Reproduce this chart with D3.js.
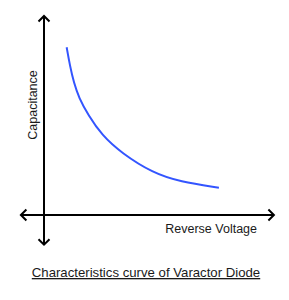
<!DOCTYPE html>
<html>
<head>
<meta charset="utf-8">
<script src="https://cdn.jsdelivr.net/npm/d3@7"></script>
<style>
  body { margin: 0; background: #fff; }
  text { font-family: "Liberation Sans", Arial, sans-serif; fill: #1a1a1a; }
</style>
</head>
<body>
<script>
// reverse voltage (arbitrary units) and capacitance
var voltage     = [1.03, 1.18, 1.36, 1.59, 2.01, 2.62, 3.53, 4.95, 6.18, 7.95];
var capacitance = [8.47, 7.53, 6.67, 5.91, 5.05, 4.04, 3.12, 2.12, 1.68, 1.38];

var xLabel = "Reverse Voltage",
    yLabel = "Capacitance",
    title = "Characteristics curve of Varactor Diode";

var width = 289,
    height = 300;

var x = d3.scaleLinear().domain([0, 10]).range([44, 264]);
var y = d3.scaleLinear().domain([0, 10]).range([215, 17]);

var svg = d3.select("body").append("svg")
    .attr("width", width)
    .attr("height", height);

var data = voltage.map(function (v, i) {
    return { v: v, c: capacitance[i] };
});

// open arrow head, dir = angle in degrees it points to
function arrow(px, py, dir) {
    var a = dir * Math.PI / 180, s = 5.5;
    var p1 = [px - s * Math.cos(a) + s * Math.sin(a), py - s * Math.sin(a) - s * Math.cos(a)];
    var p2 = [px - s * Math.cos(a) - s * Math.sin(a), py - s * Math.sin(a) + s * Math.cos(a)];
    svg.append("path")
        .attr("d", "M" + p1 + "L" + px + "," + py + "L" + p2)
        .attr("fill", "none")
        .attr("stroke", "#000")
        .attr("stroke-width", 2);
}

svg.append("line")
    .attr("x1", x(-1.05)).attr("x2", x(10.45))
    .attr("y1", y(0)).attr("y2", y(0))
    .attr("stroke", "#000").attr("stroke-width", 2);
arrow(x(-1.05), y(0), 180);
arrow(x(10.45), y(0), 0);

svg.append("line")
    .attr("x1", x(0)).attr("x2", x(0))
    .attr("y1", y(10.05)).attr("y2", y(-1.5))
    .attr("stroke", "#000").attr("stroke-width", 2);
arrow(x(0), y(10.05), -90);
arrow(x(0), y(-1.5), 90);

var line = d3.line()
    .x(function (d) { return x(d.v); })
    .y(function (d) { return y(d.c); })
    .curve(d3.curveBasis);

svg.append("path")
    .datum(data)
    .attr("d", line)
    .attr("fill", "none")
    .attr("stroke", "#3355ff")
    .attr("stroke-width", 2);

svg.append("text")
    .attr("x", 257)
    .attr("y", 233)
    .attr("text-anchor", "end")
    .attr("font-size", "12.5px")
    .text(xLabel);

svg.append("text")
    .attr("transform", "translate(37,105) rotate(-90)")
    .attr("text-anchor", "middle")
    .attr("font-size", "12.5px")
    .text(yLabel);

svg.append("text")
    .attr("x", 146)
    .attr("y", 277)
    .attr("text-anchor", "middle")
    .attr("font-size", "13.2px")
    .attr("text-decoration", "underline")
    .text(title);
</script>
</body>
</html>
